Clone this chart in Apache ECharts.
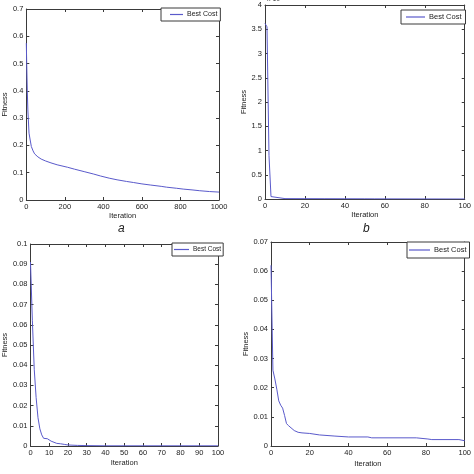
<!DOCTYPE html>
<html>
<head>
<meta charset="utf-8">
<script src="https://cdn.jsdelivr.net/npm/echarts@6/dist/echarts.min.js"></script>
<style>html,body{margin:0;padding:0;background:#fff}#c{width:474px;height:474px}</style>
</head>
<body>
<div id="c"></div>
<script>
// ---- data ----
const seriesName = 'Best Cost';
const xName = 'Iteration';
const yName = 'Fitness';
const panelLabels = ['a', 'b'];

const iterA = [0,2,5,8,14,20,26,35,43,50,60,77,100,128,160,214,250,300,350,385,430,471,520,557,600,643,700,728,780,814,860,900,950,1000];
const fitA  = [0.575,0.5,0.4,0.33,0.245,0.22,0.196,0.18,0.169,0.164,0.158,0.15,0.143,0.136,0.129,0.12,0.113,0.104,0.095,0.088,0.08,0.074,0.068,0.064,0.059,0.055,0.05,0.047,0.043,0.04,0.037,0.034,0.031,0.029];

const iterB = [0,1,2,3,4,10,20,30,40,50,55,56,100];
const fitB  = [3.62,3.55,0.9,0.05,0.01,0.008,0.007,0.006,0.005,0.004,0.003,0,0];

const iterC = [0,1,2,3,4,5,6,7,8,9,10,11,12,14,16,18,20,25,30,40,60,100];
const fitC  = [0.091,0.062,0.038,0.024,0.014,0.0085,0.0055,0.0038,0.0036,0.0036,0.0034,0.0024,0.0015,0.0013,0.0011,0.0008,0.0005,0.0003,0.0002,0.0001,0.0001,0.0001];

const iterD = [0,1,2,3,4,5,6,7,8,9,10,12,14,16,20,25,33,40,50,52,75,76,81,83,97,100];
const fitD  = [0.062,0.026,0.023,0.0195,0.0155,0.014,0.013,0.0105,0.0077,0.007,0.0064,0.0053,0.0047,0.0045,0.0043,0.0038,0.0034,0.0031,0.0031,0.0028,0.0028,0.0026,0.0024,0.0022,0.0022,0.0018];

const xMax = [1000, 100, 100, 100];
const xInt = [200, 20, 10, 20];
const yMax = [0.7, 4, 0.1, 0.07];
const yInt = [0.1, 0.5, 0.01, 0.01];

// ---- layout ----
const FONT = 'Liberation Sans, Arial, sans-serif';
const LINE = '#5a5acb';
const AX = '#3a3a3a';
const grids = [
  {left: 25, top: 9, width: 194, height: 191},
  {left: 265, top: 5, width: 201, height: 194},
  {left: 20, top: 244, width: 198, height: 202},
  {left: 271, top: 242, width: 196, height: 204}
];
const xGap = [12, 12, 13, 14];
const yGap = [15, 17, 11, 18];
const legendPos = [
  {left: 161, top: 8, fs: 7, iw: 13, pad: [3, 3, 3, 9]},
  {left: 401, top: 10, fs: 7.5, iw: 19, pad: [3, 4, 3, 5]},
  {left: 172, top: 243, fs: 6.5, iw: 15, pad: [3, 2, 3, 2]},
  {left: 407, top: 242, fs: 7.5, iw: 21, pad: [4, 3, 4, 2]}
];
const datasets = [[iterA, fitA], [iterB, fitB], [iterC, fitC], [iterD, fitD]];

const xAxis = [], yAxis = [], series = [], legend = [];
grids.forEach((g, i) => {
  const common = {
    gridIndex: i, type: 'value', splitLine: {show: false},
    axisLine: {show: true, onZero: false, lineStyle: {color: AX, width: 1}},
    axisTick: {show: true, inside: true, length: 3, lineStyle: {color: AX}}
  };
  xAxis.push(Object.assign({}, common, {
    position: 'bottom', min: 0, max: xMax[i], interval: xInt[i],
    axisLabel: {fontSize: 7.5, color: '#222', margin: 3, fontFamily: FONT, formatter: v => String(v)},
    name: xName, nameLocation: 'middle', nameGap: xGap[i],
    nameTextStyle: {fontSize: 7.5, color: '#222', fontFamily: FONT}
  }));
  xAxis.push(Object.assign({}, common, {
    position: 'top', min: 0, max: xMax[i], interval: xInt[i], axisLabel: {show: false}
  }));
  yAxis.push(Object.assign({}, common, {
    position: 'left', min: 0, max: yMax[i], interval: yInt[i],
    axisLabel: {fontSize: 7.5, color: '#222', margin: 3, fontFamily: FONT},
    name: yName, nameLocation: 'middle', nameGap: yGap[i],
    nameTextStyle: {fontSize: 7.5, color: '#222', fontFamily: FONT}
  }));
  yAxis.push(Object.assign({}, common, {
    position: 'right', min: 0, max: yMax[i], interval: yInt[i], axisLabel: {show: false}
  }));
  const [xs, ys] = datasets[i];
  series.push({
    type: 'line', name: seriesName, xAxisIndex: 2 * i, yAxisIndex: 2 * i,
    data: xs.map((x, k) => [x, ys[k]]), symbol: 'none', smooth: false,
    lineStyle: {color: LINE, width: 1}, itemStyle: {color: LINE}, silent: true,
    animation: false
  });
  const lp = legendPos[i];
  legend.push({
    left: lp.left, top: lp.top, data: [seriesName], seriesIndex: [i],
    backgroundColor: '#fff', borderColor: AX, borderWidth: 1, borderRadius: 0,
    padding: lp.pad, icon: 'rect', itemWidth: lp.iw, itemHeight: 1.2, itemGap: 4,
    itemStyle: {color: LINE},
    textStyle: {fontSize: lp.fs, color: '#222', fontFamily: FONT, padding: [0, 0, 0, -1]},
    selectedMode: false
  });
});

const chart = echarts.init(document.getElementById('c'), null, {renderer: 'canvas'});
chart.setOption({
  backgroundColor: '#fff',
  animation: false,
  grid: grids,
  xAxis, yAxis, series, legend,
  graphic: [
    {type: 'text', left: 118, top: 223, style: {text: panelLabels[0], fill: '#222', font: 'italic 12px ' + FONT}},
    {type: 'text', left: 363, top: 223, style: {text: panelLabels[1], fill: '#222', font: 'italic 12px ' + FONT}},
    {type: 'text', left: 267, top: -4, style: {text: 'x 10', fill: '#444', font: '7px ' + FONT}}
  ]
});
</script>
</body>
</html>
